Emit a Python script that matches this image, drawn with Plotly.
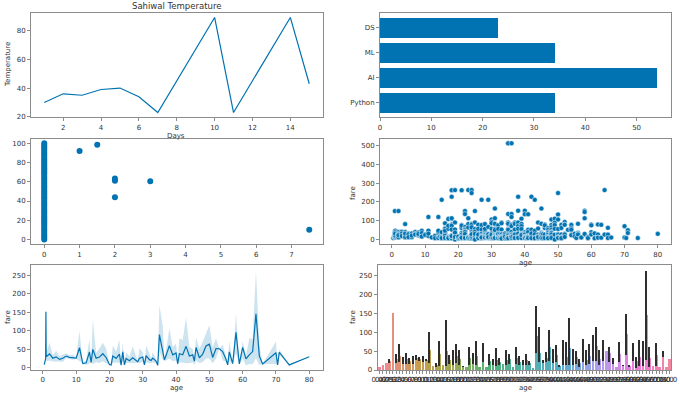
import plotly.graph_objects as go
import colorsys

W, H = 680, 395
FONT = "DejaVu Sans"
TXT = "#333333"
SPINE = "#8c8c8c"
BLUE = "#0173b2"

# ---------------- data ----------------
days = [1, 2, 3, 4, 5, 6, 7, 8, 9, 10, 11, 12, 13, 14, 15]
temperature = [30, 36, 35, 39, 40, 34, 23, 45, 67, 89, 23, 45, 67, 89, 43]

subjects = ["Python", "AI", "ML", "DS"]
subject_values = [34, 54, 34, 23]

col_zero_y = [0, 2, 4, 6, 8, 10, 12, 14, 16, 18, 20, 22, 24, 26, 28, 30, 32, 34, 36, 38, 40,
              42, 44, 46, 48, 50, 52, 54, 56, 58, 60, 62, 64, 66, 68, 70, 72, 74, 76, 78, 80,
              82, 84, 86, 88, 90, 92, 94, 96, 98, 100]
other_x = [1, 1.5, 2, 2, 2, 3, 7.5]
other_y = [92, 98.5, 63.5, 61, 44, 60.5, 10]

ages = [0.42, 0.67, 0.75, 0.83, 0.92, 1, 2, 3, 4, 5, 6, 7, 8, 9, 10, 11, 12, 13, 14, 14.5,
        15, 16, 17, 18, 19, 20, 20.5, 21, 22, 23, 23.5, 24, 24.5, 25, 26, 27, 28, 28.5, 29, 30,
        30.5, 31, 32, 32.5, 33, 34, 34.5, 35, 36, 36.5, 37, 38, 39, 40, 40.5, 41, 42, 43, 44, 45,
        45.5, 46, 47, 48, 49, 50, 51, 52, 53, 54, 55, 55.5, 56, 57, 58, 59, 60, 61, 62, 63,
        64, 65, 66, 70, 70.5, 71, 74, 80]
age_labels = [str(float(a)) for a in ages]

mean_fare = [8.52, 14.5, 19.26, 23.9, 151.55, 30, 37.5, 25.8, 29.5, 22.7, 25.6, 31.7, 28.3, 27.9, 26,
             54.2, 11.24, 13.4, 42.6, 14.45, 49.7, 26, 29, 38, 27.9, 8.6, 7.25, 31.6, 25.5, 37,
             7.23, 43, 8.05, 25, 19, 27, 20, 16.1, 26, 29, 7.9, 32.8, 22, 19.8, 26, 18, 6.44,
             90, 45, 21.7, 33, 60, 35, 40, 11.1, 38, 35, 58, 32, 35, 17.9, 55, 27, 37, 59, 64,
             28, 52, 51.48, 44, 23, 8.05, 43, 11.4, 96, 10.4, 55, 24, 35, 43.8, 146, 32, 10.5,
             40.8, 7.75, 42, 7.78, 30]
fare_lo = [8.52, 14.5, 19.26, 18.75, 151.55, 18, 20, 17, 17, 17, 16, 26, 23, 22, 24,
           18, 11.24, 7.2, 11, 14.45, 10, 15, 13, 18, 12, 7.5, 7.25, 12, 15, 12,
           7.23, 20, 8.05, 13, 12, 11, 12, 16.1, 12, 16, 7.75, 15, 12, 13, 14, 12, 6.44,
           45, 22, 17.4, 20, 25, 18, 20, 7.75, 14, 14, 12, 13, 15, 7.2, 20, 13, 15, 25, 25,
           12, 25, 51.48, 20, 16, 8.05, 20, 10.5, 40, 7.25, 25, 6.2, 10.5, 9.6, 26, 7.75, 10.5,
           10.5, 7.75, 34.65, 7.78, 30]
fare_hi = [8.52, 14.5, 19.26, 29, 151.55, 42, 68, 34, 46, 31, 36, 39, 34, 36, 28,
           100, 11.24, 19.5, 78, 14.45, 132, 40, 53, 68, 52, 10, 7.25, 60, 44, 76,
           7.23, 71, 8.05, 42, 30, 58, 31, 16.1, 53, 42, 8.05, 60, 38, 26, 42, 24, 6.44,
           170, 113, 26, 48, 107, 56, 65, 14.5, 80, 75, 137, 56, 51, 28.5, 82, 52, 70, 93, 115,
           54, 80, 51.48, 62, 30.5, 8.05, 73, 12.35, 147, 13.5, 72, 33.5, 80, 78, 263, 62, 10.5,
           71, 7.75, 49.5, 7.78, 30]

scatter_fares = [
    [8.5], [14.5], [19.3, 19.3], [29, 18.75], [151.55],
    [39.7, 11.1, 46.9, 15.7, 20.6, 39, 31.3],
    [29.1, 21.1, 10.5, 27.9, 151.55, 39.7, 31.3, 26, 12.3, 23],
    [27.9, 41.6, 26, 31.4, 15.9, 18.75],
    [81.9, 16.7, 11.1, 39.7, 22.0, 29.1, 27.9, 13.4, 31.3],
    [19.3, 31.4, 27.75, 12.5],
    [33, 31.3, 12.5, 21],
    [39.7, 29.1, 26.25],
    [21.1, 26.25, 36.75, 29.1],
    [31.4, 27.9, 15.2, 46.9, 20.5, 34.4, 15.9],
    [27.9, 24.15],
    [46.9, 120, 18.8, 31.3],
    [11.2],
    [19.5, 7.2],
    [120, 30.1, 11.2, 39.7, 7.85, 46.9],
    [14.45],
    [211.3, 8.0, 14.45, 7.2, 39, 7.7],
    [18, 9.2, 86.5, 39.7, 7.75, 57.9, 26, 10.5, 34.4, 20.25, 46.9, 8.05],
    [110.9, 108.9, 57, 10.5, 7.9, 14.45, 7.1, 73.5, 8.7, 12, 7.2],
    [262.4, 227.5, 108.9, 113.3, 79.65, 9.35, 11.5, 7.75, 8.05, 14.45, 73.5, 13, 53.1, 6.5, 17.8, 23, 20.2, 18],
    [263, 53.1, 91.1, 30, 26, 7.9, 8.05, 6.75, 10.5, 14.5, 7.65, 16.1, 36.75, 0, 13],
    [9.8, 7.9, 8.05, 7.2, 9.5, 7.85, 4.0, 7.05, 9.2, 15.74],
    [7.25],
    [262.4, 77.3, 61.4, 34.4, 73.5, 11.5, 8.05, 7.8, 26, 10.5, 16.1, 7.75, 9.5],
    [151.55, 135.6, 66.6, 55, 49.5, 41.6, 9, 7.25, 10.5, 26, 13, 21, 39.7, 29, 8.05],
    [263, 113.3, 82.3, 63.4, 15.05, 13.8, 7.55, 13, 10.5, 7.9, 9.2],
    [7.23],
    [263, 247.5, 83.2, 69.3, 79.2, 49.5, 57, 16.7, 7.5, 13, 26, 8.05, 7.14, 14.5, 65, 27.7],
    [8.05],
    [151.55, 91.1, 55.4, 7.65, 26, 13, 7.05, 17.8, 10.5, 0, 41.6, 30],
    [78.85, 30, 56.5, 7.9, 18.8, 14.45, 13, 16.1, 8.05, 25.9],
    [211.5, 76.7, 53.1, 30.5, 21, 14.45, 7.8, 10.5, 6.97, 13, 11.1],
    [82.2, 47.1, 35.5, 26.55, 7.9, 9.5, 13, 22.5, 15.5, 10.5, 56.5],
    [16.1],
    [211.3, 66.6, 30, 26, 10.5, 7.9, 9.5, 15.2, 21, 27.7, 13],
    [106.4, 93.5, 86.5, 56.9, 31, 26, 21, 13, 12.5, 8.66, 7.23, 31.4, 10.5, 24.15],
    [8.05, 7.75],
    [164.87, 113.3, 83.2, 52, 57, 37, 26.25, 20.5, 18, 13, 10.5, 7.9, 50.5],
    [76.3, 30.5, 26.3, 15.5, 13, 10.5, 7.9, 56.5, 8.05, 30],
    [30.07, 13, 9.5],
    [90, 53.1, 86.5, 27.7, 26, 15.85, 12.3, 9.5, 8.65, 5],
    [26.55, 21, 13, 10.5, 8.05, 6.5, 32.5, 23, 14.4],
    [6.44],
    [512.3, 512.3, 135.6, 90, 83.5, 57.75, 53.1, 52, 26.3, 26, 21, 10.5, 8.05, 7.1],
    [512.3, 135.6, 120, 78.85, 71.3, 40.1, 26.4, 26, 17.4, 13, 12.2, 9.5, 7.9, 15.55],
    [26, 17.4],
    [90, 83.2, 53.1, 52.6, 29.7, 26, 9.6, 7.9],
    [227.5, 153.46, 80, 90, 71.3, 56.9, 31.4, 13, 7.9, 8.66],
    [110.9, 79.65, 83.16, 71.3, 55.9, 31.3, 29.1, 26, 13, 7.92, 24.15],
    [153.46, 134.5, 27.7, 39, 31.4, 26, 15.5, 13, 9.5, 7.9],
    [7.75, 14.5],
    [134.5, 51.9, 39.7, 20.2, 15, 14.1, 13, 7.85],
    [227.5, 52.55, 26.55, 26, 13, 8.4, 7.55, 32.5],
    [211.3, 26.25, 46.9, 27.7, 8.05, 6.45],
    [90, 57.98, 26, 16.1, 8.05, 7.9, 13],
    [164.87, 83.5, 26.55, 35.5, 28.5, 27.7, 14.45, 13.5, 7.75],
    [28.5, 7.2],
    [79.2, 61.2, 75.25, 26, 7.9],
    [61.2, 52, 38.5, 34, 25.6, 15, 14.5, 9, 7.25],
    [106.4, 76.7, 65, 52, 39.6, 36.75, 34.4, 26.55, 13, 7.85],
    [110.9, 89.1, 76.7, 56.9, 25.9, 0],
    [247.5, 133.65, 106.4, 55.9, 28.7, 26, 13, 10.5, 8.05],
    [77.96, 61.4, 26.55, 12.5, 8.05, 7.05],
    [93.5, 79.65, 78.3, 30.5, 26.55, 13.5],
    [51.5],
    [78.3, 77.3, 59.4, 51.9, 26, 23],
    [30.5, 16],
    [8.05],
    [83.2, 35.5, 30.7, 26.55],
    [12.35, 10.5],
    [153.46, 146.5, 113.3, 26.55, 29.7],
    [13.5, 7.25],
    [79.2, 75.25, 39, 26.55],
    [33.5, 32.3, 6.24],
    [80, 26.55, 10.5, 9.7],
    [77.96, 9.6],
    [263, 26],
    [61.98, 26, 7.75],
    [10.5],
    [71, 10.5],
    [7.75],
    [49.5, 34.65],
    [7.78],
    [30],
]

# ---------------- helpers ----------------
husl8 = ["#f77189", "#ce9032", "#97a431", "#32b166", "#36ada4", "#39a7d0", "#a48cf4", "#f561dd"]


def hex_rgb(h):
    h = h.lstrip("#")
    return [int(h[i:i + 2], 16) / 255 for i in (0, 2, 4)]


def palette(n, sat=0.9, white=0.12):
    out = []
    for k in range(n):
        p = k * 8 / n
        j = int(p)
        t = p - j
        a, b = hex_rgb(husl8[j % 8]), hex_rgb(husl8[(j + 1) % 8])
        c = [a[i] + (b[i] - a[i]) * t for i in range(3)]
        hh, ll, ss = colorsys.rgb_to_hls(*c)
        rgb = colorsys.hls_to_rgb(hh, ll, ss * sat)
        rgb = [v + (1 - v) * white for v in rgb]
        out.append("rgb(%d,%d,%d)" % tuple(int(v * 255) for v in rgb))
    return out


def dom_x(a, b):
    return [a / W, b / W]


def dom_y(top, bottom):
    return [1 - bottom / H, 1 - top / H]


def axis(domain, rng, anchor, **kw):
    d = dict(domain=domain, range=rng, anchor=anchor, showline=True, mirror=True,
             linecolor=SPINE, linewidth=1, ticks="outside", ticklen=3, tickwidth=1,
             tickcolor=SPINE, showgrid=False, zeroline=False, automargin=False,
             tickfont=dict(family=FONT, size=7, color=TXT))
    d.update(kw)
    return d


fig = go.Figure()

# Panel 1: line
fig.add_trace(go.Scatter(x=days, y=temperature, mode="lines", line=dict(color=BLUE, width=1.2),
                         xaxis="x", yaxis="y", showlegend=False))

# Panel 2: horizontal bars
fig.add_trace(go.Bar(x=subject_values, y=list(range(len(subjects))), orientation="h", width=0.8,
                     marker=dict(color=BLUE, line=dict(width=0)), xaxis="x2", yaxis="y2",
                     showlegend=False))

# Panel 3: scatter
fig.add_trace(go.Scatter(x=[0] * len(col_zero_y) + other_x, y=col_zero_y + other_y, mode="markers",
                         marker=dict(color=BLUE, size=6, line=dict(width=0)),
                         xaxis="x3", yaxis="y3", showlegend=False))

# Panel 4: age vs fare scatter
sx, sy = [], []
for a, fs in zip(ages, scatter_fares):
    for f in fs:
        sx.append(a)
        sy.append(f)
fig.add_trace(go.Scatter(x=sx, y=sy, mode="markers",
                         marker=dict(color=BLUE, size=5, line=dict(color="white", width=0.5)),
                         xaxis="x4", yaxis="y4", showlegend=False))

# Panel 5: line with CI band
fig.add_trace(go.Scatter(x=ages, y=fare_hi, mode="lines", line=dict(width=0), hoverinfo="skip",
                         xaxis="x5", yaxis="y5", showlegend=False))
fig.add_trace(go.Scatter(x=ages, y=fare_lo, mode="lines", line=dict(width=0), fill="tonexty",
                         fillcolor="rgba(1,115,178,0.2)", hoverinfo="skip",
                         xaxis="x5", yaxis="y5", showlegend=False))
fig.add_trace(go.Scatter(x=ages, y=mean_fare, mode="lines", line=dict(color=BLUE, width=1.2),
                         xaxis="x5", yaxis="y5", showlegend=False))

# Panel 6: bars with error bars
pos = list(range(len(ages)))
fig.add_trace(go.Bar(x=pos, y=mean_fare, width=0.8,
                     marker=dict(color=palette(len(ages)), line=dict(width=0)),
                     error_y=dict(type="data", symmetric=False,
                                  array=[h - m for h, m in zip(fare_hi, mean_fare)],
                                  arrayminus=[m - l for m, l in zip(mean_fare, fare_lo)],
                                  color="#2e2e2e", thickness=2, width=0),
                     xaxis="x6", yaxis="y6", showlegend=False))

L1, R1 = 31, 322.5
L2, R2 = 380, 671
R1T, R1B = 12.7, 117.3
R2T, R2B = 138.5, 244.3
R3T, R3B = 265, 370

layout = dict(
    width=W, height=H, margin=dict(l=0, r=0, t=0, b=0, autoexpand=False),
    paper_bgcolor="white", plot_bgcolor="white", bargap=0,
    font=dict(family=FONT, size=7, color=TXT),
    xaxis=axis(dom_x(L1, R1), [0.3, 15.7], "y", tickvals=[2, 4, 6, 8, 10, 12, 14]),
    yaxis=axis(dom_y(R1T, R1B), [19.7, 92.3], "x", tickvals=[20, 40, 60, 80]),
    xaxis2=axis(dom_x(L2, R2), [0, 56.7], "y2", tickvals=[0, 10, 20, 30, 40, 50]),
    yaxis2=axis(dom_y(R1T, R1B), [-0.59, 3.59], "x2", tickvals=[0, 1, 2, 3], ticktext=subjects),
    xaxis3=axis(dom_x(L1, R1), [-0.375, 7.875], "y3", tickvals=[0, 1, 2, 3, 4, 5, 6, 7]),
    yaxis3=axis(dom_y(R2T, R2B), [-5, 105], "x3", tickvals=[0, 20, 40, 60, 80, 100]),
    xaxis4=axis(dom_x(L2, R2), [-3.56, 83.98], "y4", tickvals=[0, 10, 20, 30, 40, 50, 60, 70, 80]),
    yaxis4=axis(dom_y(R2T, R2B), [-25.6, 537.9], "x4", tickvals=[0, 100, 200, 300, 400, 500]),
    xaxis5=axis(dom_x(L1, R1), [-3.56, 83.98], "y5", tickvals=[0, 10, 20, 30, 40, 50, 60, 70, 80]),
    yaxis5=axis(dom_y(R3T, R3B), [-6, 278], "x5", tickvals=[0, 50, 100, 150, 200, 250]),
    xaxis6=axis(dom_x(377.7, R2), [-0.5, len(ages) - 0.5], "y6", tickvals=pos, ticktext=age_labels,
                tickangle=0),
    yaxis6=axis(dom_y(R3T, R3B), [0, 278], "x6", tickvals=[0, 50, 100, 150, 200, 250]),
)


def ann(text, x, y, size=7, angle=0):
    return dict(text=text, x=x / W, y=1 - y / H, xref="paper", yref="paper", showarrow=False,
                xanchor="center", yanchor="middle", textangle=angle,
                font=dict(family=FONT, size=size, color=TXT))


layout["annotations"] = [
    ann("Sahiwal Temperature", 176, 6, size=8.5),
    ann("Temperature", 8, 65, angle=-90),
    ann("Days", 176, 136),
    ann("fare", 353, 193, angle=-90),
    ann("age", 525, 263),
    ann("fare", 8, 317, angle=-90),
    ann("age", 176, 388),
    ann("fare", 353, 317, angle=-90),
    ann("age", 525, 388),
]

fig.update_layout(**layout)
fig.write_html("out.html", config={"displayModeBar": False},
               post_script="document.body.style.margin='0px';document.body.style.overflow='hidden';")
